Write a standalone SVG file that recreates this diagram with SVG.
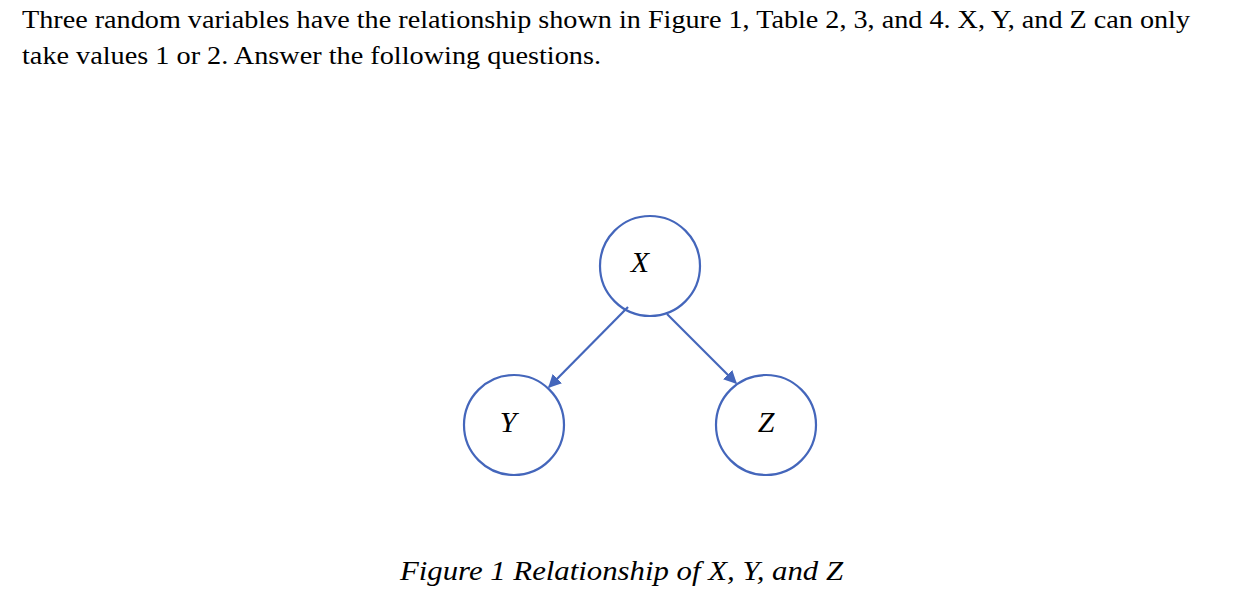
<svg xmlns="http://www.w3.org/2000/svg" width="1238" height="606" viewBox="0 0 1238 606">
<style>
.t{font-family:"Liberation Serif",serif;font-size:26px;fill:#000}
.n{fill:none;stroke:#4466bb;stroke-width:2.2}
.l{font-family:"Liberation Serif",serif;font-style:italic;font-size:30px;fill:#000;text-anchor:middle}
.c{stroke:#4466bb;stroke-width:2.2;fill:none}
</style>
<defs><marker id="a" viewBox="0 0 10 10" refX="9" refY="5" markerWidth="6" markerHeight="6" orient="auto" markerUnits="strokeWidth"><path d="M0,0L10,5L0,10z" fill="#4466bb"/></marker></defs>
<rect width="1238" height="606" fill="#fff"/>
<text class="t" x="22" y="28" textLength="1168" lengthAdjust="spacingAndGlyphs">Three random variables have the relationship shown in Figure 1, Table 2, 3, and 4. X, Y, and Z can only</text>
<text class="t" x="22" y="64" textLength="579" lengthAdjust="spacingAndGlyphs">take values 1 or 2. Answer the following questions.</text>
<g id="X"><circle class="n" cx="650" cy="266" r="50"/><text class="l" x="640" y="272">X</text></g>
<g id="Y"><circle class="n" cx="514" cy="425" r="50"/><text class="l" x="508" y="432">Y</text></g>
<g id="Z"><circle class="n" cx="766" cy="425" r="50"/><text class="l" x="766" y="432">Z</text></g>
<g id="connectors">
<line class="c" x1="628" y1="307" x2="549" y2="387" marker-end="url(#a)"/>
<line class="c" x1="667" y1="314" x2="736" y2="383" marker-end="url(#a)"/>
</g>
<text x="400" y="580" textLength="443" lengthAdjust="spacingAndGlyphs" style="font-family:'Liberation Serif',serif;font-style:italic;font-size:28px">Figure 1 Relationship of X, Y, and Z</text>
</svg>
